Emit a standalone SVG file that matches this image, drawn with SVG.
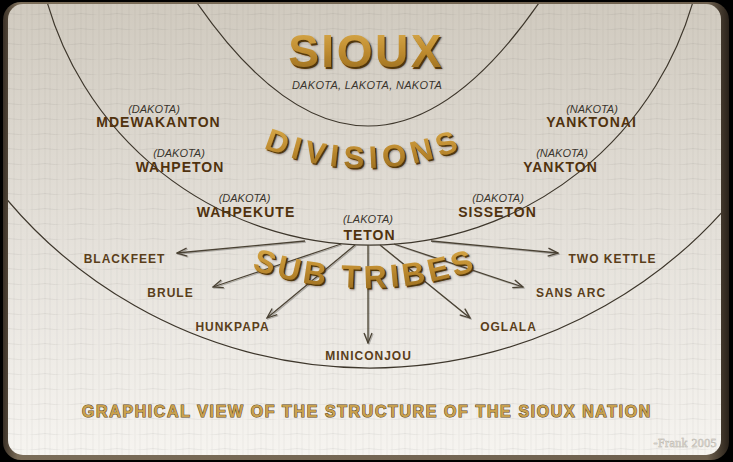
<svg xmlns="http://www.w3.org/2000/svg" width="733" height="462" viewBox="0 0 733 462">
  <defs>
    <linearGradient id="panelGrad" x1="0" y1="0" x2="0" y2="1">
      <stop offset="0" stop-color="#d0cabf"/>
      <stop offset="0.5" stop-color="#e4e0d9"/>
      <stop offset="1" stop-color="#f6f4f0"/>
    </linearGradient>
    <linearGradient id="borderGrad" x1="0" y1="0" x2="1" y2="0">
      <stop offset="0" stop-color="#3a3026"/>
      <stop offset="0.02" stop-color="#7a6c58"/>
      <stop offset="0.97" stop-color="#6e604e"/>
      <stop offset="1" stop-color="#2a221a"/>
    </linearGradient>
    <linearGradient id="gold" x1="0" y1="0" x2="0" y2="1">
      <stop offset="0" stop-color="#dcae4e"/>
      <stop offset="0.5" stop-color="#bf8c30"/>
      <stop offset="1" stop-color="#94681c"/>
    </linearGradient>
    <pattern id="texture" width="36" height="15" patternUnits="userSpaceOnUse">
      <path d="M0,14.5 Q9,12.5 18,14.5 T36,14.5" fill="none" stroke="#000" stroke-opacity="0.05" stroke-width="1"/>
      <path d="M3,0 V15 M9,0 V15 M14,0 V15 M21,0 V15 M27,0 V15 M32,0 V15" stroke="#000" stroke-opacity="0.035" stroke-width="1"/>
    </pattern>
    <clipPath id="panelClip">
      <rect x="8" y="4" width="713" height="451" rx="15"/>
    </clipPath>
    <filter id="shadow" x="-10%" y="-20%" width="130%" height="150%">
      <feDropShadow dx="2" dy="2" stdDeviation="1.2" flood-color="#2a1c08" flood-opacity="0.45"/>
    </filter>
    <filter id="lineShadow" x="-5%" y="-5%" width="110%" height="110%">
      <feDropShadow dx="1" dy="1" stdDeviation="0.6" flood-color="#000" flood-opacity="0.25"/>
    </filter>
    <marker id="arrow" viewBox="0 0 12 10" refX="11" refY="5" markerWidth="12" markerHeight="10" markerUnits="userSpaceOnUse" orient="auto">
      <path d="M1,1 L11,5 L1,9" fill="none" stroke="#4a4234" stroke-width="1.3"/>
    </marker>
    <path id="divPath" d="M164,73.6 A259,259 0 0 0 564,73.6"/>
    <path id="subPath" d="M165,224.8 A348,348 0 0 0 565,224.8"/>
  </defs>
  <style>
    .arc { fill: none; stroke: #3e372c; stroke-width: 1.2; }
    .conn { fill: none; stroke: #4a4234; stroke-width: 1.3; marker-end: url(#arrow); }
    .tribe { font-family: "Liberation Sans", Arial, sans-serif; font-weight: bold; font-size: 14px; letter-spacing: 1px; fill: #50320e; text-anchor: middle; }
    .people { font-family: "Liberation Sans", Arial, sans-serif; font-style: italic; font-size: 11px; fill: #3a352d; text-anchor: middle; }
    .sub { font-family: "Liberation Sans", Arial, sans-serif; font-weight: bold; font-size: 12px; letter-spacing: 1px; fill: #5a3e1a; text-anchor: middle; }
    .goldbig { font-family: "Liberation Sans", Arial, sans-serif; font-weight: bold; text-anchor: middle; }
    .face { fill: url(#gold); }
    .extr { fill: #6a4a14; }
  </style>

  <!-- frame -->
  <rect x="0" y="0" width="733" height="462" fill="#000"/>
  <rect x="3" y="2" width="726" height="458" rx="18" fill="url(#borderGrad)"/>
  <rect x="8" y="4" width="713" height="451" rx="15" fill="url(#panelGrad)"/>
  <rect x="8" y="4" width="713" height="451" rx="15" fill="url(#texture)"/>

  <!-- arcs -->
  <g id="arcs" clip-path="url(#panelClip)">
    <path class="arc" d="M195,0 Q368,252 541,0"/>
    <path class="arc" d="M42.7,-15 A336,336 0 0 0 697.3,-15"/>
    <path class="arc" d="M-22.9,160 A475,475 0 0 0 762.9,160"/>
  </g>

  <!-- SIOUX -->
  <g id="sioux">
    <text class="goldbig extr" x="367.5" y="68.5" font-size="46" letter-spacing="2.5">SIOUX</text>
    <text class="goldbig face" x="366" y="67" font-size="46" letter-spacing="2.5" filter="url(#shadow)">SIOUX</text>
    <text class="people" x="367" y="89" font-size="13" letter-spacing="0.3">DAKOTA, LAKOTA, NAKOTA</text>
  </g>

  <!-- DIVISIONS -->
  <g id="divisions">
    <text class="goldbig extr" font-size="31" letter-spacing="5.5" transform="translate(1.5,1.5)"><textPath href="#divPath" startOffset="50%">DIVISIONS</textPath></text>
    <text class="goldbig face" font-size="31" letter-spacing="5.5" filter="url(#shadow)"><textPath href="#divPath" startOffset="50%">DIVISIONS</textPath></text>
  </g>

  <!-- division nodes -->
  <g id="mdewakanton">
    <text class="people" x="154" y="113">(DAKOTA)</text>
    <text class="tribe" x="158.5" y="127">MDEWAKANTON</text>
  </g>
  <g id="wahpeton">
    <text class="people" x="179" y="157">(DAKOTA)</text>
    <text class="tribe" x="180" y="172">WAHPETON</text>
  </g>
  <g id="wahpekute">
    <text class="people" x="244.5" y="202">(DAKOTA)</text>
    <text class="tribe" x="246" y="217">WAHPEKUTE</text>
  </g>
  <g id="yanktonai">
    <text class="people" x="592" y="113">(NAKOTA)</text>
    <text class="tribe" x="591.5" y="127">YANKTONAI</text>
  </g>
  <g id="yankton">
    <text class="people" x="562" y="157">(NAKOTA)</text>
    <text class="tribe" x="560.5" y="172">YANKTON</text>
  </g>
  <g id="sisseton">
    <text class="people" x="498" y="202">(DAKOTA)</text>
    <text class="tribe" x="497.5" y="217">SISSETON</text>
  </g>
  <g id="teton">
    <text class="people" x="368" y="223">(LAKOTA)</text>
    <text class="tribe" x="369.5" y="240" font-size="18" letter-spacing="2.4">TETON</text>
  </g>

  <!-- connectors -->
  <g id="connectors" filter="url(#lineShadow)">
    <path class="conn" d="M305,241 L177,253"/>
    <path class="conn" d="M341,244 L213,287"/>
    <path class="conn" d="M355,245 L267,318"/>
    <path class="conn" d="M368,245 L368,343"/>
    <path class="conn" d="M380,245 L470,318"/>
    <path class="conn" d="M394,244 L523,287"/>
    <path class="conn" d="M431,241 L558,253"/>
  </g>

  <!-- SUB TRIBES -->
  <g id="subtribes">
    <text class="goldbig extr" font-size="32" letter-spacing="3.7" transform="translate(1.5,1.5)"><textPath href="#subPath" startOffset="50%">SUB TRIBES</textPath></text>
    <text class="goldbig face" font-size="32" letter-spacing="3.7" filter="url(#shadow)"><textPath href="#subPath" startOffset="50%">SUB TRIBES</textPath></text>
  </g>

  <!-- sub tribe nodes -->
  <g id="blackfeet"><text class="sub" x="124.5" y="263">BLACKFEET</text></g>
  <g id="brule"><text class="sub" x="170.5" y="297">BRULE</text></g>
  <g id="hunkpapa"><text class="sub" x="232.5" y="331">HUNKPAPA</text></g>
  <g id="miniconjou"><text class="sub" x="368.5" y="360">MINICONJOU</text></g>
  <g id="oglala"><text class="sub" x="508.5" y="331">OGLALA</text></g>
  <g id="sansarc"><text class="sub" x="571" y="297">SANS ARC</text></g>
  <g id="twokettle"><text class="sub" x="612.5" y="263">TWO KETTLE</text></g>

  <!-- title -->
  <g id="title">
    <text x="367" y="417" font-family="'Liberation Sans', Arial, sans-serif" font-weight="bold" font-size="16" letter-spacing="1.6" text-anchor="middle" fill="#c9a14e" stroke="#5c4416" stroke-width="1" paint-order="stroke fill">GRAPHICAL VIEW OF THE STRUCTURE OF THE SIOUX NATION</text>
  </g>
  <g id="signature">
    <text x="717" y="447" font-family="'Liberation Serif', 'Times New Roman', serif" font-size="12" letter-spacing="0.4" text-anchor="end" fill="#d2cec6" stroke="#a8a399" stroke-width="0.4" paint-order="stroke fill">-Frank 2005</text>
  </g>
</svg>
